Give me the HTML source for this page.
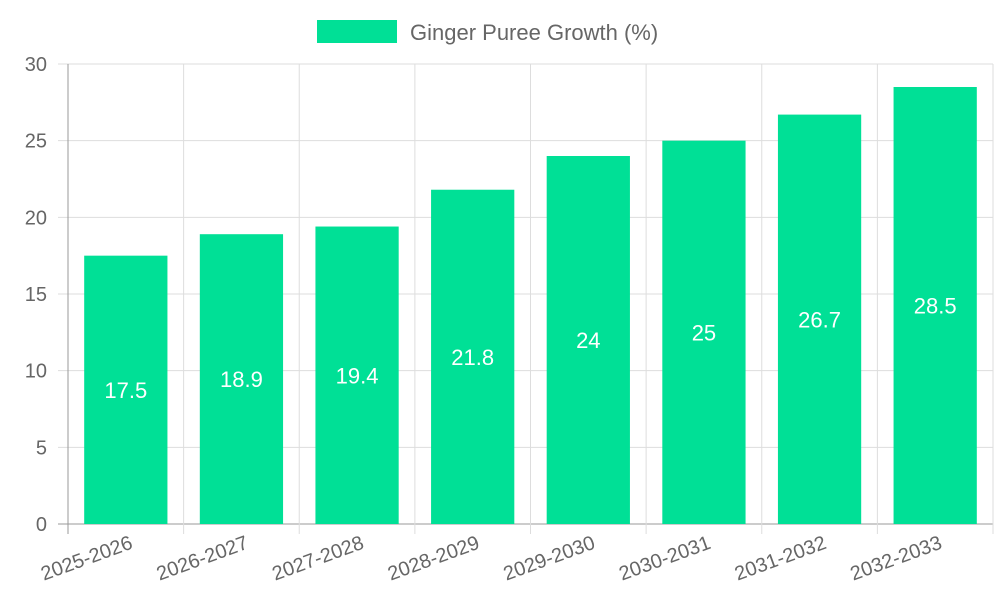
<!DOCTYPE html>
<html><head><meta charset="utf-8"><style>
html,body{margin:0;padding:0;background:#fff;}
svg{display:block;font-family:"Liberation Sans",sans-serif;}
</style></head><body>
<svg id="chart" width="1000" height="600">
<g id="legend">
<rect x="317" y="20" width="80" height="23" fill="#00e096"></rect>
<text x="410" y="40" font-size="22" fill="#666">Ginger Puree Growth (%)</text>
</g>
<g id="grid"></g><g id="bars"></g><g id="axes"></g>
</svg>
<script>
const categories=["2025-2026","2026-2027","2027-2028","2028-2029","2029-2030","2030-2031","2031-2032","2032-2033"];
const values=[17.5,18.9,19.4,21.8,24,25,26.7,28.5];
const yTicks=[0,5,10,15,20,25,30];
const NS="http://www.w3.org/2000/svg";
const L=68,R=993,T=64,B=524,yMax=30;
const bw=(R-L)/categories.length;
const y=v=>B-(v/yMax)*(B-T);
const x=i=>L+i*bw;
function mk(p,t,a){const e=document.createElementNS(NS,t);for(const k in a)e.setAttribute(k,a[k]);p.appendChild(e);return e;}
const grid=document.getElementById('grid'),bars=document.getElementById('bars'),axes=document.getElementById('axes');
yTicks.forEach(t=>{
 const g=mk(grid,'line',{x1:58,x2:R,y1:y(t),y2:y(t),stroke:t===0?'#999':'#ddd','stroke-width':1});
 
 
 const lb=mk(axes,'text',{x:47,y:y(t)+7,'text-anchor':'end','font-size':20,fill:'#666'});
 lb.textContent=t;
 
 
});
for(let i=0;i<=categories.length;i++){
 const g=mk(grid,'line',{x1:x(i),x2:x(i),y1:T,y2:B+10,stroke:i===0?'#999':'#ddd','stroke-width':1});
 
 
}
categories.forEach((c,i)=>{
 const cx=x(i)+bw/2,w=bw*0.72,v=values[i];
 const r=mk(bars,'rect',{x:cx-w/2,y:y(v),width:w,height:B-y(v),fill:'#00e096'});
 
 
 const t=mk(bars,'text',{x:cx,y:(y(v)+B)/2+8,'text-anchor':'middle','font-size':22,fill:'#fff'});
 t.textContent=v;
 
 
 const xl=mk(axes,'text',{x:cx+8,y:548,'text-anchor':'end','font-size':20,fill:'#666',transform:`rotate(-20 ${cx+8} 548)`});
 xl.textContent=c;
 
 
});
</script>
</body></html>
